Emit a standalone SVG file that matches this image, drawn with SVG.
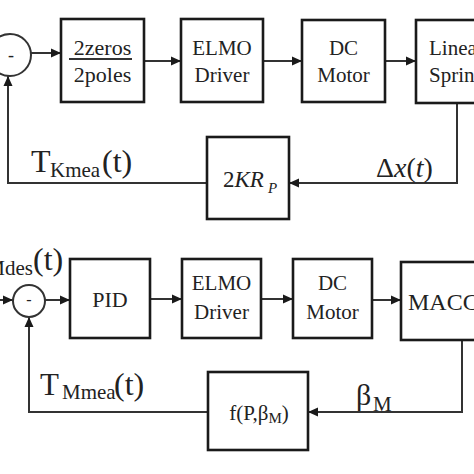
<svg xmlns="http://www.w3.org/2000/svg" width="474" height="474" viewBox="0 0 474 474">
<style>
.box{fill:#fff;stroke:#1a1a1a;stroke-width:2.6}
.sum{fill:#fff;stroke:#333;stroke-width:2}
.ln{fill:none;stroke:#333;stroke-width:2}
.t{font-family:"Liberation Serif","Times New Roman",serif;fill:#222}
.c{text-anchor:middle}
.i{font-style:italic}
</style>
<defs>
<marker id="ah" markerUnits="userSpaceOnUse" markerWidth="10" markerHeight="10" viewBox="0 0 10 10" refX="10" refY="5" orient="auto">
<path d="M0,0.5 L10,5 L0,9.5 Z" fill="#1a1a1a"/>
</marker>
</defs>
<rect width="474" height="474" fill="#fff"/>
<g id="connectors">
<line class="ln" x1="31" y1="53" x2="61" y2="53" marker-end="url(#ah)"/>
<line class="ln" x1="144" y1="61" x2="181" y2="61" marker-end="url(#ah)"/>
<line class="ln" x1="263" y1="61" x2="302" y2="61" marker-end="url(#ah)"/>
<line class="ln" x1="385" y1="61" x2="416" y2="61" marker-end="url(#ah)"/>
<polyline class="ln" points="457,103 457,183 289,183" marker-end="url(#ah)"/>
<polyline class="ln" points="207,183 8,183 8,76" marker-end="url(#ah)"/>
<line class="ln" x1="0" y1="300" x2="13" y2="300" marker-end="url(#ah)"/>
<line class="ln" x1="45" y1="300" x2="70" y2="300" marker-end="url(#ah)"/>
<line class="ln" x1="150" y1="299" x2="182" y2="299" marker-end="url(#ah)"/>
<line class="ln" x1="261" y1="299" x2="293" y2="299" marker-end="url(#ah)"/>
<line class="ln" x1="372" y1="300" x2="401" y2="300" marker-end="url(#ah)"/>
<polyline class="ln" points="462,340 462,412 308,412" marker-end="url(#ah)"/>
<polyline class="ln" points="208,412 29,412 29,317" marker-end="url(#ah)"/>
</g>
<g id="sum1">
<circle class="sum" cx="10" cy="55" r="21"/>
<text class="t c" x="11" y="61" style="font-size:18px">-</text>
</g>
<g id="zeros-poles">
<rect class="box" x="61" y="19" width="83" height="83"/>
<text class="t c" x="102.5" y="55" style="font-size:22px">2zeros</text>
<line x1="69" y1="59" x2="132" y2="59" stroke="#333" stroke-width="2"/>
<text class="t c" x="102.5" y="82" style="font-size:22px">2poles</text>
</g>
<g id="elmo1">
<rect class="box" x="181" y="19" width="82" height="83"/>
<text class="t c" x="222" y="55" style="font-size:21px">ELMO</text>
<text class="t c" x="222" y="82" style="font-size:21px">Driver</text>
</g>
<g id="dc1">
<rect class="box" x="302" y="20" width="83" height="82"/>
<text class="t c" x="343.5" y="55" style="font-size:21px">DC</text>
<text class="t c" x="343.5" y="82" style="font-size:21px">Motor</text>
</g>
<g id="spring">
<rect class="box" x="416" y="20" width="90" height="83"/>
<text class="t" x="429" y="55" style="font-size:21px">Linear</text>
<text class="t" x="429" y="82" style="font-size:21px">Spring</text>
</g>
<g id="gain">
<rect class="box" x="207" y="137" width="82" height="82"/>
<text class="t" x="223" y="187" style="font-size:23px">2<tspan class="i">KR</tspan><tspan class="i" style="font-size:15px" dx="4" dy="6">P</tspan></text>
</g>
<text class="t" x="376" y="177" style="font-size:28px">Δ<tspan class="i">x</tspan>(<tspan class="i">t</tspan>)</text>
<text class="t" x="31" y="172" style="font-size:32px">T</text>
<text class="t" x="50" y="177" style="font-size:21px">Kmea</text>
<text class="t" x="102" y="172" style="font-size:32px">(t)</text>
<g id="sum2">
<circle class="sum" cx="29" cy="301" r="16"/>
<text class="t c" x="29" y="305" style="font-size:16px">-</text>
</g>
<g id="pid">
<rect class="box" x="70" y="259" width="80" height="79"/>
<text class="t c" x="110" y="307" style="font-size:22px">PID</text>
</g>
<g id="elmo2">
<rect class="box" x="182" y="259" width="79" height="79"/>
<text class="t c" x="221.5" y="290" style="font-size:21px">ELMO</text>
<text class="t c" x="221.5" y="319" style="font-size:21px">Driver</text>
</g>
<g id="dc2">
<rect class="box" x="293" y="259" width="79" height="79"/>
<text class="t c" x="332.5" y="290" style="font-size:21px">DC</text>
<text class="t c" x="332.5" y="319" style="font-size:21px">Motor</text>
</g>
<g id="maccepa">
<rect class="box" x="401" y="262" width="100" height="78"/>
<text class="t" x="408" y="310" style="font-size:24px">MACCEPA</text>
</g>
<g id="fbox">
<rect class="box" x="208" y="372" width="100" height="78"/>
<text class="t c" x="259" y="420" style="font-size:21px">f(P,β<tspan style="font-size:15px" dy="3">M</tspan><tspan dy="-3">)</tspan></text>
</g>
<text class="t" x="356" y="405" style="font-size:30px">β</text>
<text class="t" x="373" y="411" style="font-size:21px">M</text>
<text class="t" x="40" y="395" style="font-size:31px">T</text>
<text class="t" x="62" y="399" style="font-size:21px">Mmea</text>
<text class="t" x="114" y="395" style="font-size:32px">(t)</text>
<text class="t" x="-40" y="270" style="font-size:32px">T</text>
<text class="t" x="33" y="275" text-anchor="end" style="font-size:21px">Mdes</text>
<text class="t" x="33" y="270" style="font-size:32px">(t)</text>
</svg>
